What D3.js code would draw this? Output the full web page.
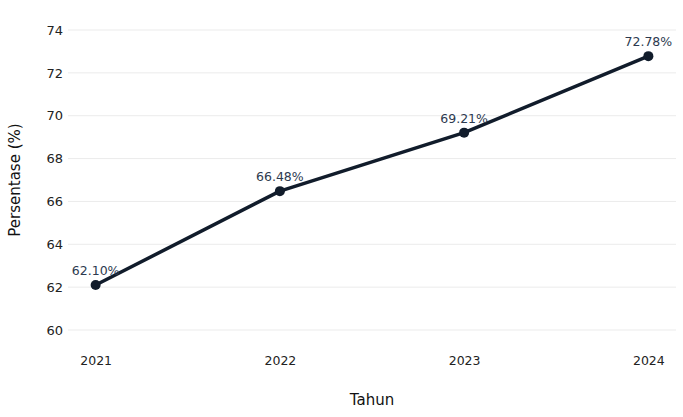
<!DOCTYPE html>
<html>
<head>
<meta charset="utf-8">
<script src="https://cdn.jsdelivr.net/npm/d3@7"></script>
<style>
  html, body { margin: 0; padding: 0; background: #fff; }
  svg { display: block; font-family: "DejaVu Sans", sans-serif; }
</style>
</head>
<body>
<svg id="chart" width="683" height="417"></svg>
<script>
const years = ["2021", "2022", "2023", "2024"];
const values = [62.10, 66.48, 69.21, 72.78];
const yTicks = [60, 62, 64, 66, 68, 70, 72, 74];

const svg = d3.select("#chart");
const x = d3.scalePoint().domain(years).range([68, 676]).padding(0.15);
const y = d3.scaleLinear().domain([60, 74]).range([330, 30]);

// gridlines
svg.append("g").selectAll("line").data(yTicks).join("line")
  .attr("x1", 68).attr("x2", 676)
  .attr("y1", d => y(d)).attr("y2", d => y(d))
  .attr("stroke", "#ebebeb").attr("stroke-width", 1);

// y axis
const yAxis = svg.append("g").attr("transform", "translate(68,0)")
  .call(d3.axisLeft(y).tickValues(yTicks).tickSize(0).tickPadding(5).tickFormat(d3.format("d")));
yAxis.select(".domain").remove();
yAxis.selectAll("text").attr("font-size", 13).attr("fill", "#222").attr("font-family", "DejaVu Sans");

// x axis
const xAxis = svg.append("g").attr("transform", "translate(0,354)")
  .call(d3.axisBottom(x).tickSize(0).tickPadding(2));
xAxis.select(".domain").remove();
xAxis.selectAll("text").attr("font-size", 12.5).attr("fill", "#222").attr("font-family", "DejaVu Sans");

// axis titles
svg.append("text").attr("x", 372).attr("y", 405).attr("text-anchor", "middle")
  .attr("font-size", 15).attr("fill", "#111").text("Tahun");
svg.append("text").attr("transform", "translate(20,180) rotate(-90)").attr("text-anchor", "middle")
  .attr("font-size", 15).attr("fill", "#111").text("Persentase (%)");

const data = years.map((yr, i) => ({ yr, v: values[i] }));

// line
svg.append("path").datum(data)
  .attr("fill", "none").attr("stroke", "#111c2b").attr("stroke-width", 3.5)
  .attr("stroke-linejoin", "round")
  .attr("d", d3.line().x(d => x(d.yr)).y(d => y(d.v)));

// points
svg.append("g").selectAll("circle").data(data).join("circle")
  .attr("cx", d => x(d.yr)).attr("cy", d => y(d.v)).attr("r", 5)
  .attr("fill", "#111c2b");

// labels
svg.append("g").selectAll("text").data(data).join("text")
  .attr("x", d => x(d.yr)).attr("y", d => y(d.v) - 10)
  .attr("text-anchor", "middle").attr("font-size", 12.5).attr("fill", "#2d3a4f")
  .text(d => d3.format(".2f")(d.v) + "%");
</script>
</body>
</html>
